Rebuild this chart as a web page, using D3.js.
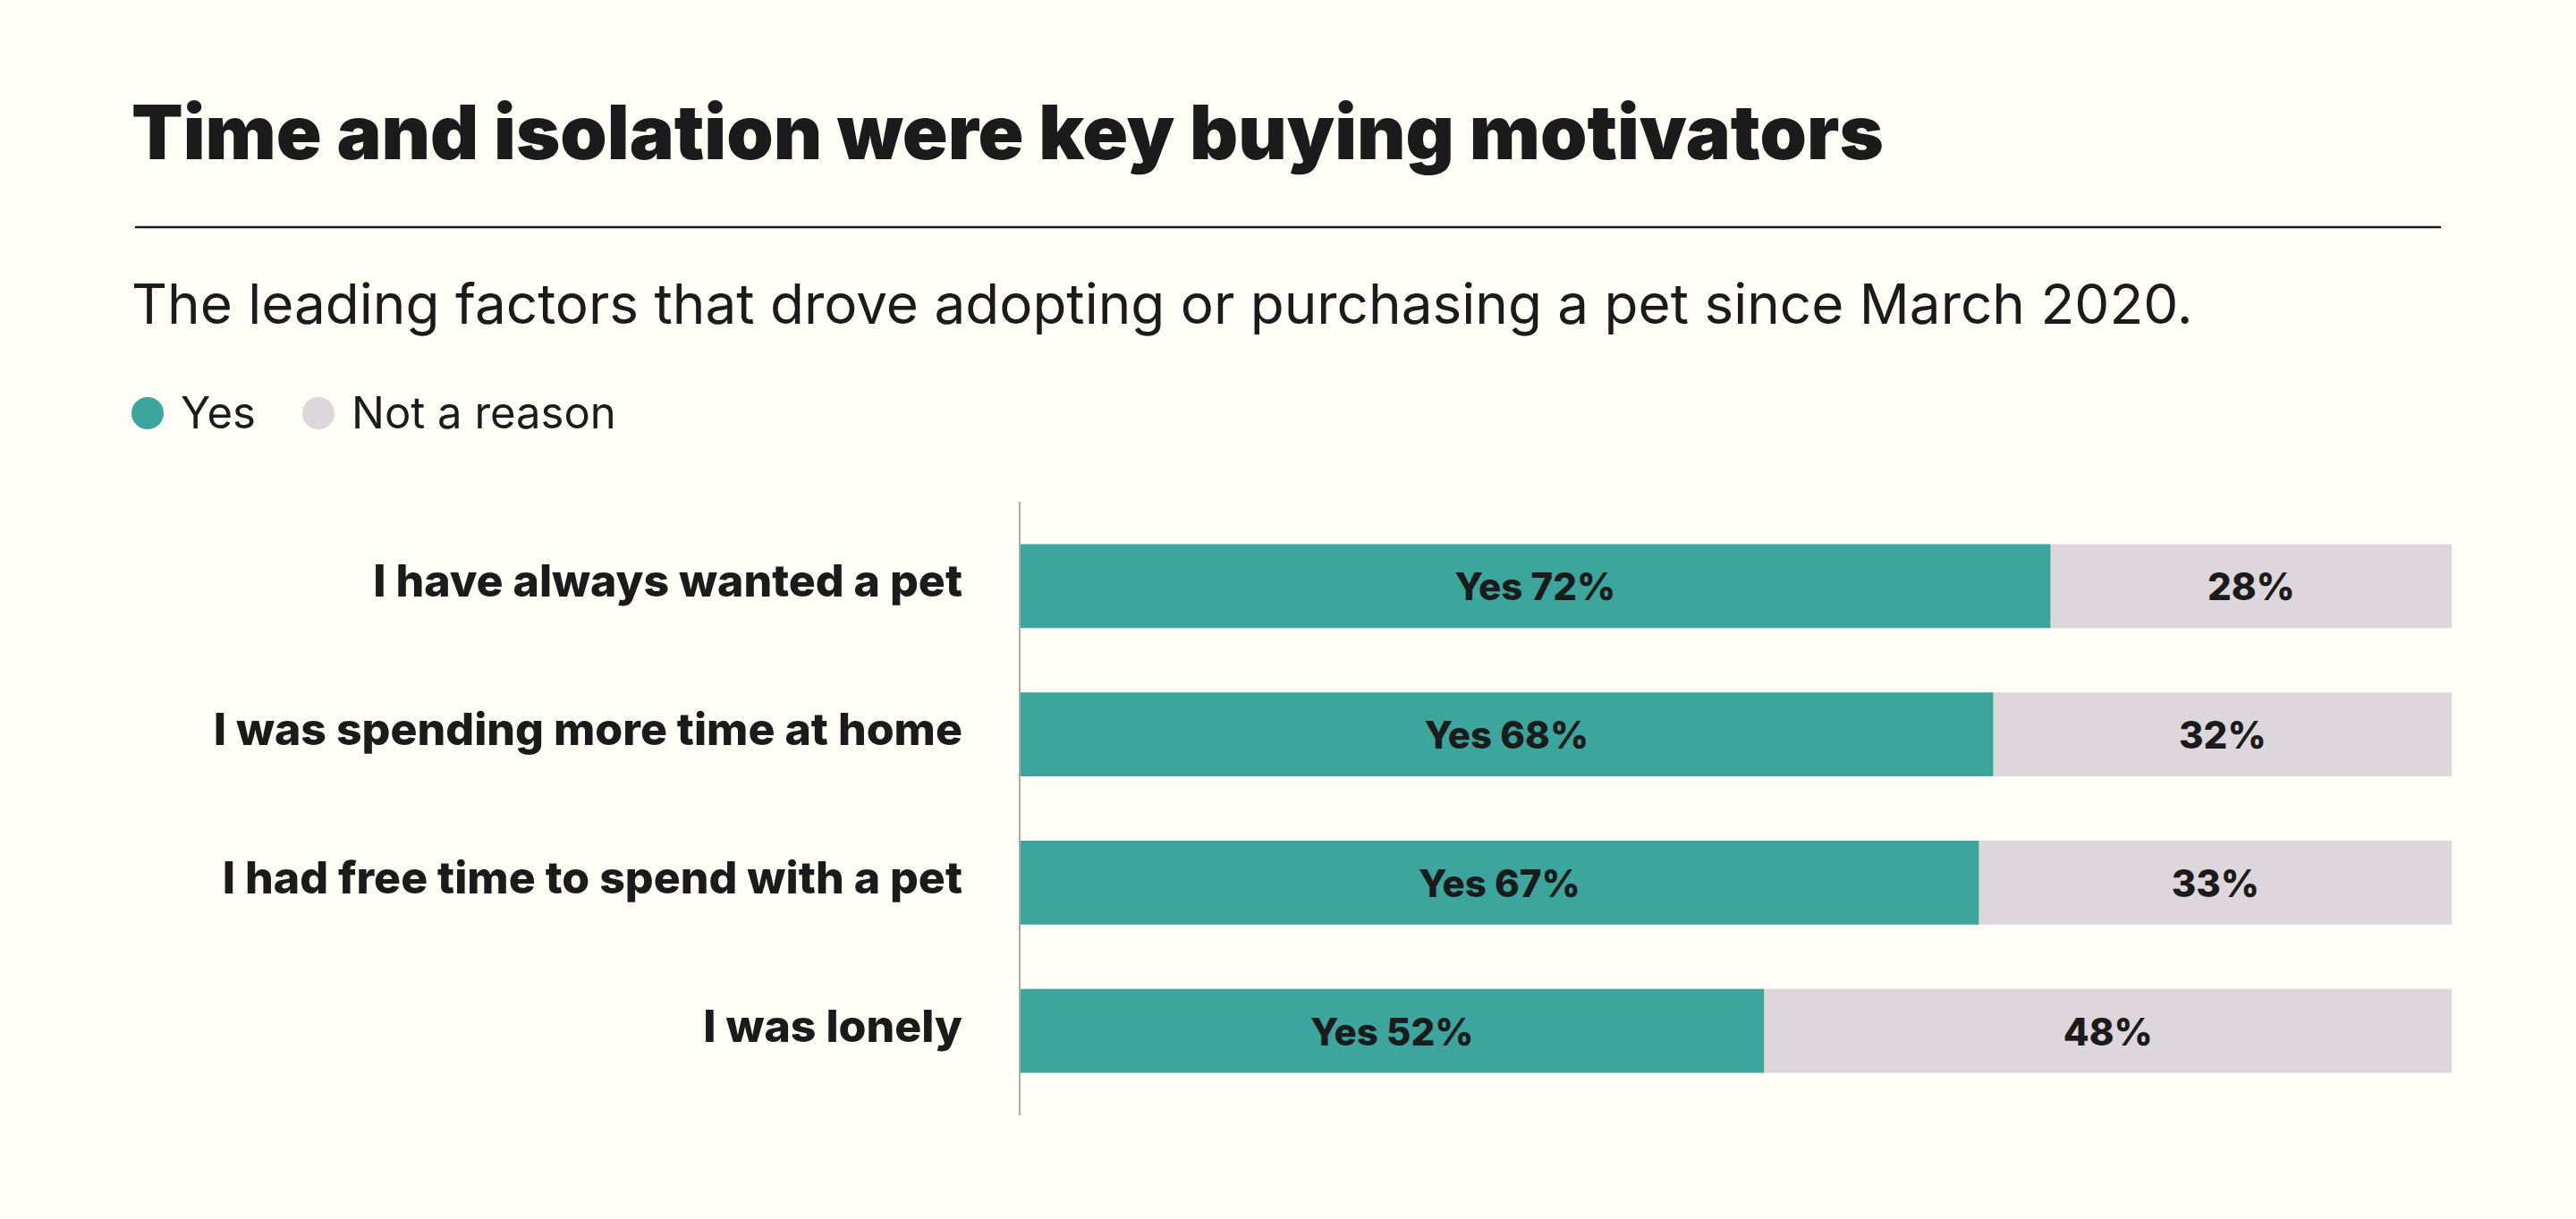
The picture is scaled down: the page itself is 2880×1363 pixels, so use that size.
<!DOCTYPE html>
<html lang="en">
<head>
    <meta charset="UTF-8">
    <title>Time and isolation were key buying motivators</title>
    <style>
        html, body {
            margin: 0;
            padding: 0;
            background-color: #fefef7;
        }

        svg {
            display: block;
            font-family: 'Inter', 'Lato', sans-serif;
        }

        .title {
            font-size: 84px;
            font-weight: 900;
            fill: #1b1b1b;
        }

        .subtitle {
            font-size: 62px;
            font-weight: 400;
            fill: #1b1b1b;
        }

        .legend-label {
            font-size: 49px;
            fill: #1b1b1b;
        }

        .category-label {
            font-family: 'Inter', sans-serif;
            font-size: 50px;
            font-weight: 800;
            fill: #1b1b1b;
        }

        .bar-label {
            font-size: 42px;
            font-weight: 800;
            fill: #1b1b1b;
        }
    </style>
</head>
<body>
    <svg id="chart" width="2880" height="1363"></svg>

    <script src="https://d3js.org/d3.v7.min.js"></script>
    <script>
        // data
        const categories = [
            'I have always wanted a pet',
            'I was spending more time at home',
            'I had free time to spend with a pet',
            'I was lonely'
        ];
        const yesValues = [72, 68, 67, 52];
        const notReasonValues = [28, 32, 33, 48];
        const seriesNames = ['Yes', 'Not a reason'];
        const seriesColors = ['#3ca59d', '#ddd6da'];

        const width = 2880;
        const height = 1363;

        const svg = d3.select('#chart');

        svg.append('rect')
            .attr('width', width)
            .attr('height', height)
            .attr('fill', '#fefef7');

        // heading block
        svg.append('text')
            .attr('class', 'title')
            .attr('x', 147)
            .attr('y', 178)
            .text('Time and isolation were key buying motivators');

        svg.append('line')
            .attr('x1', 151)
            .attr('x2', 2729)
            .attr('y1', 254)
            .attr('y2', 254)
            .attr('stroke', '#1b1b1b')
            .attr('stroke-width', 2.5);

        svg.append('text')
            .attr('class', 'subtitle')
            .attr('x', 147)
            .attr('y', 362)
            .text('The leading factors that drove adopting or purchasing a pet since March 2020.');

        // legend
        const legendX = [165, 356];
        const legend = svg.append('g').attr('class', 'legend');
        seriesNames.forEach((name, i) => {
            const g = legend.append('g')
                .attr('transform', `translate(${legendX[i]}, 462)`);
            g.append('circle')
                .attr('r', 18)
                .attr('fill', seriesColors[i]);
            g.append('text')
                .attr('class', 'legend-label')
                .attr('x', 37)
                .attr('y', 17)
                .text(name);
        });

        // bars
        const rows = categories.map((c, i) => ({
            category: c,
            yes: yesValues[i],
            not: notReasonValues[i]
        }));

        const x = d3.scaleLinear()
            .domain([0, 100])
            .range([1140, 2741]);

        const y = d3.scaleBand()
            .domain(categories)
            .range([561, 1247])
            .paddingInner(0.434)
            .paddingOuter(0.286);

        const stack = d3.stack().keys(['yes', 'not']);
        const layers = stack(rows);

        const layerGroups = svg.append('g')
            .selectAll('g')
            .data(layers)
            .join('g')
            .attr('fill', (d, i) => seriesColors[i]);

        layerGroups.selectAll('rect')
            .data(d => d)
            .join('rect')
            .attr('x', d => x(d[0]))
            .attr('y', d => y(d.data.category))
            .attr('width', d => x(d[1]) - x(d[0]))
            .attr('height', y.bandwidth());

        layerGroups.selectAll('text')
            .data((d, i) => d.map(v => ({ v, key: d.key })))
            .join('text')
            .attr('class', 'bar-label')
            .attr('text-anchor', 'middle')
            .attr('x', d => (x(d.v[0]) + x(d.v[1])) / 2)
            .attr('y', d => y(d.v.data.category) + y.bandwidth() / 2 + 16)
            .text(d => d.key === 'yes'
                ? `Yes ${d.v.data.yes}%`
                : `${d.v.data.not}%`);

        // category axis
        const axis = svg.append('g')
            .attr('transform', `translate(${x(0)}, 0)`)
            .call(d3.axisLeft(y).tickSize(0).tickPadding(64));

        axis.attr('font-family', null).attr('font-size', null);

        axis.select('.domain')
            .attr('d', `M0,${y.range()[0]}V${y.range()[1]}`)
            .attr('stroke', '#ababab')
            .attr('stroke-width', 2);

        axis.selectAll('.tick text')
            .attr('class', 'category-label')
            .attr('dy', null)
            .attr('y', 12)
            .attr('fill', null);
    </script>
</body>
</html>
